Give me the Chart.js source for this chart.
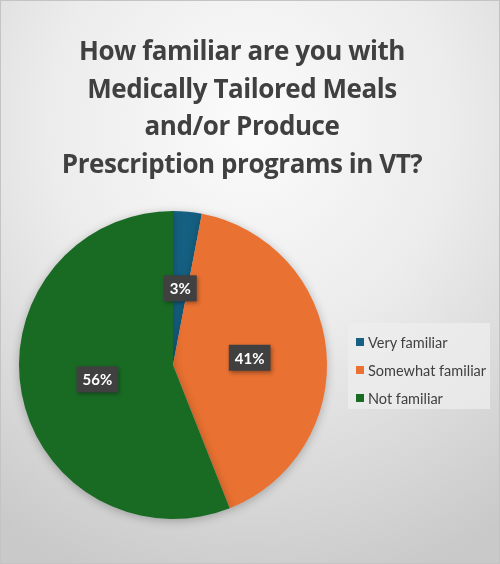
<!DOCTYPE html>
<html>
  <head>
    <title>Familiarity with MTM / Produce Rx</title>
    <style>
      html, body { margin: 0; padding: 0; }
      body {
        width: 500px; height: 564px; overflow: hidden; position: relative;
        box-sizing: border-box; border: 1px solid #c4c4c4;
        background: radial-gradient(ellipse 90% 85% at 50% 22%, #fbfbfb 0%, #ececec 45%, #d6d6d6 80%, #c9c9c9 100%);
        font-family: Lato, "Open Sans", sans-serif;
      }
      #wrap { position: absolute; left: -1px; top: -1px; width: 500px; height: 564px; }
      #title {
        position: absolute; left: -9px; top: 31px; width: 500px; margin: 0;
        text-align: center; color: #404040; font-family: "Open Sans", sans-serif;
        font-weight: bold; font-size: 26px; line-height: 37.5px; letter-spacing: -0.45px;
      }
      #legend {
        position: absolute; left: 347px; top: 322px; width: 142px; height: 86px;
        background: rgba(238,238,238,0.75); box-sizing: border-box; padding-top: 5px;
      }
      .item { display: flex; align-items: center; height: 28px; padding-left: 8px;
        color: #404040; font-size: 14.5px; }
      .sw { width: 8px; height: 8px; margin-right: 4px; }
    </style>
  </head>
  <body>
    <div id="wrap"><canvas id="pie" width="500" height="564"></canvas></div>
    <h1 id="title"></h1>
    <div id="legend"></div>

    <script src="https://cdn.jsdelivr.net/npm/chart.js"></script>
    <script>
      // chart data
      const categories = ["Very familiar", "Somewhat familiar", "Not familiar"];
      const percents = [3, 41, 56];
      const sliceColors = ["#156082", "#E97132", "#196B24"];
      const titleLines = ["How familiar are you with", "Medically Tailored Meals", "and/or Produce", "Prescription programs in VT?"];

      // title, one line per entry
      document.getElementById("title").innerHTML = titleLines.join("<br>");

      // build the legend from the arrays
      const legend = document.getElementById("legend");
      categories.forEach((name, i) => {
        const row = document.createElement("div");
        row.className = "item";
        row.innerHTML = '<span class="sw" style="background:' + sliceColors[i] + '"></span>' + name;
        legend.appendChild(row);
      });

      // soft shadow under the pie
      const pieShadow = {
        id: "pieShadow",
        beforeDatasetsDraw(chart) {
          const c = chart.ctx;
          c.save();
          c.shadowColor = "rgba(0,0,0,0.25)";
          c.shadowBlur = 10;
          c.shadowOffsetY = 2;
        },
        afterDatasetsDraw(chart) {
          chart.ctx.restore();
        }
      };

      // dark label boxes with the percentages
      const pctLabels = {
        id: "pctLabels",
        afterDatasetsDraw(chart) {
          const c = chart.ctx;
          const meta = chart.getDatasetMeta(0);
          c.save();
          c.font = "bold 15px Lato, sans-serif";
          c.textAlign = "center";
          c.textBaseline = "middle";
          meta.data.forEach((arc, i) => {
            const p = arc.getCenterPoint();
            const txt = percents[i] + "%";
            const w = c.measureText(txt).width + 12;
            const h = 26;
            c.shadowColor = "rgba(0,0,0,0.35)";
            c.shadowBlur = 4;
            c.shadowOffsetX = 1;
            c.shadowOffsetY = 2;
            c.fillStyle = "#404040";
            c.fillRect(p.x - w / 2, p.y - h / 2, w, h);
            c.shadowColor = "transparent";
            c.fillStyle = "#ffffff";
            c.fillText(txt, p.x, p.y + 1);
          });
          c.restore();
        }
      };

      new Chart(document.getElementById("pie"), {
        type: "pie",
        data: {
          labels: categories,
          datasets: [{
            data: percents,
            backgroundColor: sliceColors,
            borderWidth: 0
          }]
        },
        options: {
          responsive: false,
          animation: false,
          layout: { padding: { left: 19, right: 173, bottom: 45, top: 211 } },
          plugins: {
            legend: { display: false },
            tooltip: { enabled: false }
          }
        },
        plugins: [pieShadow, pctLabels]
      });
    </script>
  </body>
</html>
